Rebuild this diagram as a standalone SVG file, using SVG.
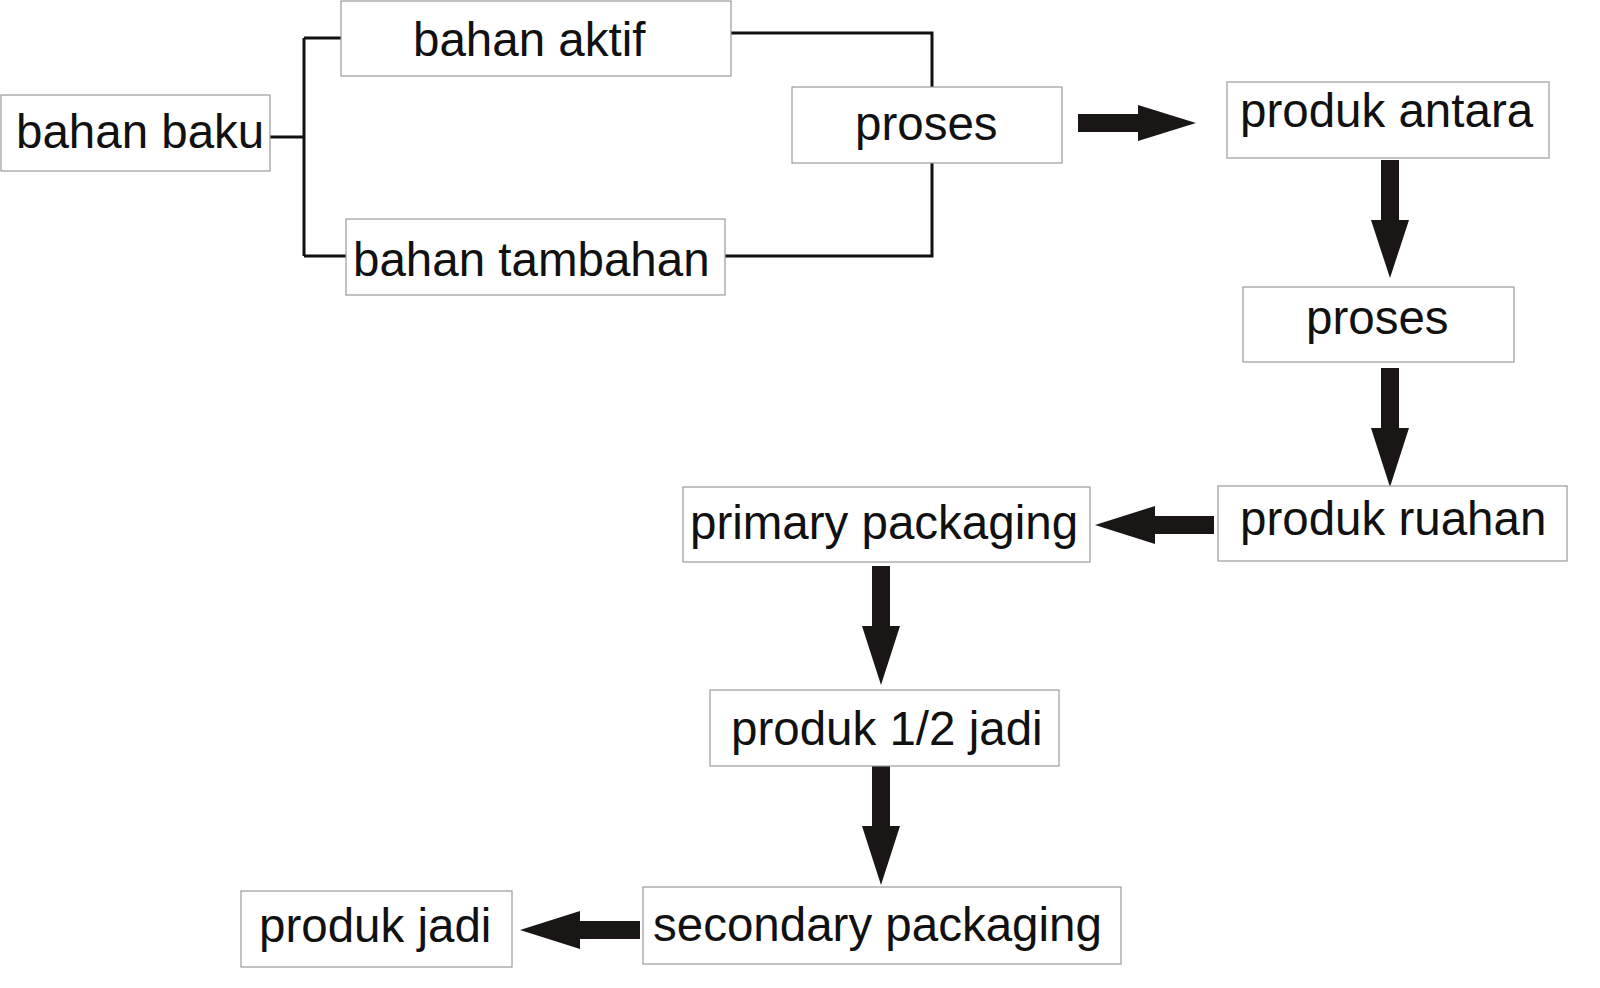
<svg xmlns="http://www.w3.org/2000/svg" width="1600" height="988" viewBox="0 0 1600 988">
<style>
.b{fill:#fff;stroke:#9a9a9a;stroke-width:1.2}
text{font-family:"Liberation Sans",Arial,sans-serif;font-size:47.5px;fill:#111}
.l{fill:none;stroke:#111;stroke-width:3}
.a{fill:#1a1616}
</style>
<rect width="1600" height="988" fill="#fff"/>
<g id="connectors">
<path class="l" d="M270 137H304M304 38V256M304 38H341M304 256H346M731 33H932V87M725 256H932V163"/>
<polygon class="a" points="1078,114 1138,114 1138,105 1196,123 1138,141 1138,132 1078,132"/>
<polygon class="a" points="1381,160 1399,160 1399,220 1409,220 1390,278 1371,220 1381,220"/>
<polygon class="a" points="1381,368 1399,368 1399,428 1409,428 1390,487 1371,428 1381,428"/>
<polygon class="a" points="1214,516 1155,516 1155,506 1095,525 1155,544 1155,534 1214,534"/>
<polygon class="a" points="872,566 890,566 890,626 900,626 881,685 862,626 872,626"/>
<polygon class="a" points="872,766 890,766 890,826 900,826 881,885 862,826 872,826"/>
<polygon class="a" points="640,921 580,921 580,911 520,930 580,949 580,939 640,939"/>
</g>
<g id="bahan_baku"><rect class="b" x="1" y="95" width="269" height="76"/><text x="16" y="148">bahan baku</text></g>
<g id="bahan_aktif"><rect class="b" x="341" y="1" width="390" height="75"/><text x="413" y="56">bahan aktif</text></g>
<g id="proses1"><rect class="b" x="792" y="87" width="270" height="76"/><text x="855" y="140">proses</text></g>
<g id="bahan_tambahan"><rect class="b" x="346" y="219" width="379" height="76"/><text x="353" y="276">bahan tambahan</text></g>
<g id="produk_antara"><rect class="b" x="1227" y="82" width="322" height="76"/><text x="1240" y="127">produk antara</text></g>
<g id="proses2"><rect class="b" x="1243" y="287" width="271" height="75"/><text x="1306" y="334">proses</text></g>
<g id="produk_ruahan"><rect class="b" x="1218" y="486" width="349" height="75"/><text x="1240" y="535">produk ruahan</text></g>
<g id="primary_packaging"><rect class="b" x="683" y="487" width="407" height="75"/><text x="690" y="539">primary packaging</text></g>
<g id="produk_setengah_jadi"><rect class="b" x="710" y="690" width="349" height="76"/><text x="731" y="745">produk 1/2 jadi</text></g>
<g id="secondary_packaging"><rect class="b" x="643" y="887" width="478" height="77"/><text x="653" y="941">secondary packaging</text></g>
<g id="produk_jadi"><rect class="b" x="241" y="891" width="271" height="76"/><text x="259" y="942">produk jadi</text></g>
</svg>
